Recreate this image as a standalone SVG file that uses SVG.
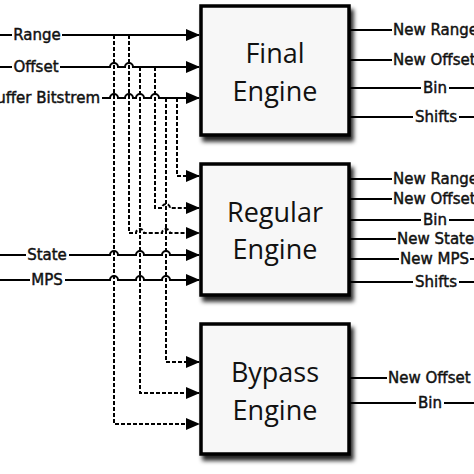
<svg xmlns="http://www.w3.org/2000/svg" width="474" height="474" viewBox="0 0 474 474">
<defs>
<filter id="sh" x="-10%" y="-10%" width="130%" height="130%">
<feDropShadow dx="3" dy="5" stdDeviation="2" flood-color="#000" flood-opacity="0.85"/>
</filter>
<marker id="ah" markerWidth="14" markerHeight="12" refX="13" refY="6" orient="auto" markerUnits="userSpaceOnUse">
<path d="M0,0 L14,6 L0,12 Z" fill="#000"/>
</marker>
</defs>
<style>
.box{fill:#f7f7f7;stroke:#000;stroke-width:3.5}
.title{font-family:"Open Sans","DejaVu Sans",sans-serif;font-size:27px;fill:#111;text-anchor:middle}
.lbl{font-family:"DejaVu Sans",sans-serif;font-size:15px;fill:#111;stroke:#111;stroke-width:0.45}
.s{fill:none;stroke:#000;stroke-width:2}
.d{fill:none;stroke:#000;stroke-width:2;stroke-dasharray:4,2}
.m{text-anchor:middle}
.e{text-anchor:end}
</style>
<rect width="474" height="474" fill="#fff"/>

<g id="connectors">
<!-- inputs to Final -->
<path class="s" d="M0,35 H12 M62,35 H199" marker-end="url(#ah)"/>
<path class="s" d="M0,67 H12 M60,67 H110 a4,4 0 0 1 8,0 H125 a4,4 0 0 1 8,0 H199" marker-end="url(#ah)"/>
<path class="s" d="M102,98 H110 a4,4 0 0 1 8,0 H125 a4,4 0 0 1 8,0 H136 a4,4 0 0 1 8,0 H151 a4,4 0 0 1 8,0 H199" marker-end="url(#ah)"/>
<!-- verticals -->
<path class="d" d="M114,35 V424 H199" marker-end="url(#ah)"/>
<path class="d" d="M129,35 V233 H136 a4,4 0 0 1 8,0 H162 a4,4 0 0 1 8,0 H199" marker-end="url(#ah)"/>
<path class="d" d="M140,67 V393 H199" marker-end="url(#ah)"/>
<path class="d" d="M155,67 V208 H162 a4,4 0 0 1 8,0 H199" marker-end="url(#ah)"/>
<path class="d" d="M166,98 V362 H199" marker-end="url(#ah)"/>
<path class="d" d="M177,98 V176 H199" marker-end="url(#ah)"/>
<!-- State / MPS -->
<path class="s" d="M0,255 H26 M69,255 H110 a4,4 0 0 1 8,0 H136 a4,4 0 0 1 8,0 H162 a4,4 0 0 1 8,0 H199" marker-end="url(#ah)"/>
<path class="s" d="M0,280 H30 M65,280 H110 a4,4 0 0 1 8,0 H136 a4,4 0 0 1 8,0 H162 a4,4 0 0 1 8,0 H199" marker-end="url(#ah)"/>
<!-- outputs Final -->
<path class="s" d="M350,30 H392 M350,60 H392 M350,88 H421 M449,88 H474 M350,117 H413 M459,117 H474"/>
<!-- outputs Regular -->
<path class="s" d="M350,179 H392 M350,199 H392 M350,220 H421 M449,220 H474 M350,239 H396 M350,259 H399 M470,259 H474 M350,282 H413 M459,282 H474"/>
<!-- outputs Bypass -->
<path class="s" d="M350,378 H387 M350,403 H416 M444,403 H474"/>
</g>

<g id="final-engine">
<rect class="box" x="201" y="6" width="148" height="129" filter="url(#sh)"/>
<text class="title" x="275" y="63">Final</text>
<text class="title" x="275" y="101">Engine</text>
</g>
<g id="regular-engine">
<rect class="box" x="201" y="164" width="148" height="131" filter="url(#sh)"/>
<text class="title" x="275" y="222">Regular</text>
<text class="title" x="275" y="259">Engine</text>
</g>
<g id="bypass-engine">
<rect class="box" x="201" y="324" width="148" height="130" filter="url(#sh)"/>
<text class="title" x="275" y="382">Bypass</text>
<text class="title" x="275" y="420">Engine</text>
</g>

<g id="labels">
<text class="lbl m" x="37" y="40">Range</text>
<text class="lbl m" x="36" y="72">Offset</text>
<text class="lbl e" x="100" y="103">Buffer Bitstrem</text>
<text class="lbl m" x="47" y="260">State</text>
<text class="lbl m" x="47" y="285">MPS</text>
<text class="lbl" x="393" y="35">New Range</text>
<text class="lbl" x="393" y="65">New Offset</text>
<text class="lbl m" x="435" y="93">Bin</text>
<text class="lbl m" x="436" y="122">Shifts</text>
<text class="lbl" x="393" y="184">New Range</text>
<text class="lbl" x="393" y="204">New Offset</text>
<text class="lbl m" x="435" y="225">Bin</text>
<text class="lbl" x="397" y="244">New State</text>
<text class="lbl" x="400" y="264">New MPS</text>
<text class="lbl m" x="436" y="287">Shifts</text>
<text class="lbl" x="388" y="383">New Offset</text>
<text class="lbl m" x="430" y="408">Bin</text>
</g>
</svg>
